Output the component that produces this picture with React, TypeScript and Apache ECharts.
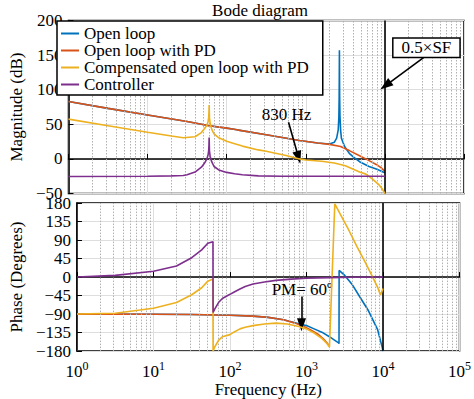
import React, { useEffect, useRef } from "react";
import * as echarts from "echarts";

const FONT = "Liberation Serif";

const seriesNames = ["Open loop", "Open loop with PD", "Compensated open loop with PD", "Controller"];
const seriesColors = ["#0072BD", "#D95319", "#EDB120", "#7E2F8E"];

const chartTitle = "Bode diagram";
const xName = "Frequency (Hz)";
const magName = "Magnitude (dB)";
const phaseName = "Phase (Degrees)";
const xMin = 1;
const xMax = 100000;
const magMin = -50;
const magMax = 200;
const magStep = 50;
const phaseMin = -180;
const phaseMax = 180;
const phaseStep = 45;
const sfFrequency = 10000;

// Magnitude (dB) — [frequency Hz, value]
const magOpenLoop: [number, number][] = [
  [1, 83], [3.16, 73], [10, 63.5], [31.6, 54], [60, 48], [100, 44.5], [135, 42], [316, 35], [832, 26.5],
  [1413, 23], [1995, 21.5], [2291, 24], [2455, 30], [2570, 42], [2618, 60], [2642, 90], [2661, 157],
  [2679, 90], [2704, 62], [2754, 42], [2818, 30], [3090, 18], [3548, 8], [3981, 3], [4786, -4],
  [6310, -11], [7943, -15], [9333, -18.5], [10000, -20],
];
const magOpenLoopPD: [number, number][] = [
  [1, 83], [3.16, 73], [10, 63.5], [31.6, 54], [60, 48], [100, 44.5], [135, 42], [316, 35], [832, 26.5],
  [1413, 23], [1995, 21], [2754, 18], [3548, 12], [4786, 4.5], [6310, -2.5], [7762, -8], [8913, -12.5],
  [10000, -18],
];
const magCompensated: [number, number][] = [
  [1, 57.5], [3.16, 48], [10, 38.5], [20, 33], [28.2, 30.5], [39.8, 32], [47.9, 38], [52.5, 44], [56.2, 48.5],
  [58.2, 54], [59.2, 60], [59.7, 67], [60, 78], [60.3, 67], [60.5, 60], [61.7, 51.5], [64.6, 43], [69.2, 36],
  [79.4, 30.5], [100, 25.5], [126, 22], [158, 18.5], [251, 13], [316, 11], [562, 5], [832, 0], [1000, -1.5],
  [1585, -3.5], [2291, -6], [3162, -10], [4786, -19], [5754, -22], [6918, -29], [8511, -38], [9333, -44],
  [10000, -50],
];
const magController: [number, number][] = [
  [1, -25.5], [10, -25], [20, -24.5], [28.2, -24], [31.6, -23], [39.8, -19], [47.9, -12], [52.5, -6],
  [56.2, 0], [58.2, 6], [59.2, 12], [59.7, 20], [60, 31], [60.3, 20], [60.5, 12], [61.7, 4], [64.6, -4],
  [69.2, -11], [79.4, -16], [100, -19.5], [126, -21.5], [158, -23], [251, -24.5], [501, -25], [10000, -25],
];

// Phase (degrees) — [frequency Hz, value]
const phaseOpenLoop: [number, number][] = [
  [1, -90], [10, -90.5], [31.6, -91], [100, -93], [200, -95], [316, -98], [501, -104], [708, -111],
  [891, -116], [1000, -118], [1259, -126], [1585, -134], [1995, -145], [2399, -155], [2630, -160],
  [2661, -162], [2670, 16], [3162, 4], [3981, -19], [5012, -49], [6457, -82], [8511, -128], [9772, -171],
  [10000, -180],
];
const phaseOpenLoopPD: [number, number][] = [
  [1, -90], [10, -90.5], [31.6, -91], [100, -93], [200, -95], [316, -98], [501, -104], [708, -112],
  [891, -119], [1122, -128], [1413, -139], [1660, -150], [1905, -163], [1995, -167],
];
const phaseCompensated: [number, number][] = [
  [1, -90], [3.16, -88], [10, -76], [20, -62], [31.6, -43], [42.7, -26], [51.3, -10], [59.9, -5],
  [60.1, -180], [63.1, -170], [70.8, -154], [79.4, -145], [100, -140], [112, -134], [135, -126], [158, -122],
  [200, -118], [282, -114], [398, -112], [562, -114], [794, -120], [1000, -126], [1259, -136], [1585, -149],
  [1862, -162], [1995, -170], [2344, 178], [2818, 150], [3548, 115], [4571, 74], [5888, 35], [7413, -2],
  [8511, -25], [9226, -43], [9550, -38], [10000, -28],
];
const phaseController: [number, number][] = [
  [1, 0], [3.16, 4], [10, 14], [20, 27], [31.6, 47], [42.7, 66], [51.3, 82], [59.9, 86], [60.1, -86],
  [63.1, -78], [70.8, -62], [79.4, -52], [100, -42], [112, -37], [135, -29], [158, -23], [200, -17],
  [282, -12], [398, -8], [631, -5], [1000, -3], [1995, -1.5], [3981, -0.5], [10000, 0],
];

const magData = [magOpenLoop, magOpenLoopPD, magCompensated, magController];
const phaseData = [phaseOpenLoop, phaseOpenLoopPD, phaseCompensated, phaseController];

// Annotations (data coordinates)
const sfLabel = "0.5×SF";
const sfLabelAt: [number, number] = [33500, 160.5];
const sfArrow: [number, number][] = [[31400, 147], [10200, 106]];
const fcLabel = "830 Hz";
const fcLabelAt: [number, number] = [571, 63.5];
const fcArrow: [number, number][] = [[605, 53], [810, 2]];
const pmLabel = "PM= 60º";
const pmLabelAt: [number, number] = [873, -30];
const pmArrow: [number, number][] = [[860, -47], [860, -116]];

const minorMultipliers = [2, 3, 4, 5, 6, 7, 8, 9];
const decades = [1, 10, 100, 1000, 10000];

const minus = (v: number) => String(v).replace("-", "\u2212");

export default function App() {
  const ref = useRef<HTMLDivElement>(null);
  useEffect(() => {
    if (!ref.current) return;
    const chart = echarts.init(ref.current, undefined, { renderer: "svg" });
    const minorLines: any[] = [];
    decades.forEach((d) => minorMultipliers.forEach((m) => minorLines.push({ xAxis: d * m })));

    const axisCommonX = (gridIndex: number, showLabel: boolean) => ({
      gridIndex,
      type: "log",
      logBase: 10,
      min: xMin,
      max: xMax,
      axisLine: { show: true, lineStyle: { color: "#000", width: 1.5 } },
      axisTick: { show: true, inside: true, length: 5, lineStyle: { color: "#000" } },
      splitLine: { show: true, lineStyle: { color: "#dedede", width: 1 } },
      axisLabel: {
        show: showLabel,
        margin: 7,
        fontFamily: FONT,
        formatter: (v: number) => `{b|10}{e|${Math.round(Math.log10(v))}}`,
        rich: {
          b: { fontFamily: FONT, fontSize: 17, color: "#000", verticalAlign: "bottom", lineHeight: 22 },
          e: { fontFamily: FONT, fontSize: 12, color: "#000", verticalAlign: "bottom", lineHeight: 22, padding: [0, 0, 8, 0] },
        },
      },
      ...(showLabel
        ? {
            name: xName,
            nameLocation: "middle",
            nameGap: 25,
            nameTextStyle: { fontFamily: FONT, fontSize: 17, color: "#000" },
          }
        : {}),
    });

    const axisCommonY = (gridIndex: number, min: number, max: number, step: number, name: string) => ({
      gridIndex,
      type: "value",
      min,
      max,
      interval: step,
      name,
      nameLocation: "middle",
      nameGap: 42,
      nameTextStyle: { fontFamily: FONT, fontSize: 17, color: "#000" },
      axisLine: { show: true, lineStyle: { color: "#000", width: 1.5 } },
      axisTick: { show: true, inside: true, length: 5, lineStyle: { color: "#000" } },
      splitLine: { show: true, lineStyle: { color: "#dedede", width: 1 } },
      axisLabel: { fontFamily: FONT, fontSize: 17, color: "#000", margin: 6, formatter: minus },
    });

    const series: any[] = [];
    [0, 1].forEach((g) => {
      series.push({
        type: "line",
        xAxisIndex: g,
        yAxisIndex: g,
        data: [],
        silent: true,
        z: 1,
        markLine: {
          silent: true,
          symbol: ["none", "none"],
          label: { show: false },
          lineStyle: { color: "#b0b0b0", width: 1, type: [1.5, 1.5] },
          data: minorLines,
        },
      });
    });
    seriesNames.forEach((name, i) => {
      series.push({
        name,
        type: "line",
        xAxisIndex: 0,
        yAxisIndex: 0,
        data: magData[i],
        showSymbol: false,
        symbol: "none",
        lineStyle: { color: seriesColors[i], width: 1.6 },
        itemStyle: { color: seriesColors[i] },
        z: 3 + i,
      });
      series.push({
        name,
        type: "line",
        xAxisIndex: 1,
        yAxisIndex: 1,
        data: phaseData[i],
        showSymbol: false,
        symbol: "none",
        lineStyle: { color: seriesColors[i], width: 1.6 },
        itemStyle: { color: seriesColors[i] },
        z: 3 + i,
      });
    });
    [0, 1].forEach((g) => {
      series.push({
        type: "line",
        xAxisIndex: g,
        yAxisIndex: g,
        data: [],
        silent: true,
        z: 10,
        markLine: {
          silent: true,
          symbol: ["none", "none"],
          label: { show: false },
          lineStyle: { color: "#000", width: 1.6, type: "solid" },
          data: [{ xAxis: sfFrequency }],
        },
      });
    });
    const arrowSeries = (g: number, pts: [number, number][]) => ({
      type: "line",
      xAxisIndex: g,
      yAxisIndex: g,
      data: [],
      silent: true,
      z: 11,
      markLine: {
        silent: true,
        symbol: ["none", "triangle"],
        symbolSize: [9, 13],
        label: { show: false },
        lineStyle: { color: "#000", width: 1.6, type: "solid" },
        itemStyle: { color: "#000" },
        data: [[{ coord: pts[0] }, { coord: pts[1] }]],
      },
    });
    series.push(arrowSeries(0, sfArrow));
    series.push(arrowSeries(0, fcArrow));
    series.push(arrowSeries(1, pmArrow));
    const textSeries = (g: number, items: { at: [number, number]; text: string; boxed?: boolean }[]) => ({
      type: "line",
      xAxisIndex: g,
      yAxisIndex: g,
      data: [],
      silent: true,
      z: 12,
      markPoint: {
        silent: true,
        symbol: "rect",
        symbolSize: 1,
        itemStyle: { color: "rgba(0,0,0,0)" },
        data: items.map((it) => ({
          coord: it.at,
          label: {
            show: true,
            position: "inside",
            formatter: it.text,
            fontFamily: FONT,
            fontSize: 17,
            color: "#000",
            ...(it.boxed
              ? { backgroundColor: "#fff", borderColor: "#000", borderWidth: 1.5, padding: [1, 8, 0, 8] }
              : {}),
          },
        })),
      },
    });
    series.push(textSeries(0, [
      { at: sfLabelAt, text: sfLabel, boxed: true },
      { at: fcLabelAt, text: fcLabel },
    ]));
    series.push(textSeries(1, [{ at: pmLabelAt, text: pmLabel }]));

    chart.setOption({
      animation: false,
      textStyle: { fontFamily: FONT, fontSize: 17 },
      graphic: [
        {
          type: "text",
          x: 260,
          y: 10,
          style: {
            text: chartTitle,
            font: `17px ${FONT}`,
            fill: "#000",
            align: "center",
            verticalAlign: "middle",
          },
        },
      ],
      legend: {
        data: seriesNames,
        orient: "vertical",
        left: 57,
        top: 21,
        itemWidth: 18,
        itemHeight: 2,
        itemGap: 0,
        icon: "rect",
        selectedMode: false,
        backgroundColor: "#fff",
        borderColor: "#000",
        borderWidth: 1.5,
        borderRadius: 0,
        padding: [4, 14, 2, 4],
        textStyle: { fontFamily: FONT, fontSize: 17, color: "#000", lineHeight: 15 },
        z: 20,
      },
      grid: [
        { left: 56, top: 20.5, width: 408, height: 173, show: true, borderColor: "#000", borderWidth: 1.5, backgroundColor: "rgba(0,0,0,0)" },
        { left: 56, top: 203, width: 408, height: 153, show: true, borderColor: "#000", borderWidth: 1.5, backgroundColor: "rgba(0,0,0,0)" },
      ],
      xAxis: [axisCommonX(0, false), axisCommonX(1, true)],
      yAxis: [
        axisCommonY(0, magMin, magMax, magStep, magName),
        axisCommonY(1, phaseMin, phaseMax, phaseStep, phaseName),
      ],
      series,
    });
    return () => chart.dispose();
  }, []);
  return (
    <div
      ref={ref}
      style={{ position: "fixed", left: 0, top: 0, width: 474, height: 399, background: "#fff" }}
    />
  );
}
